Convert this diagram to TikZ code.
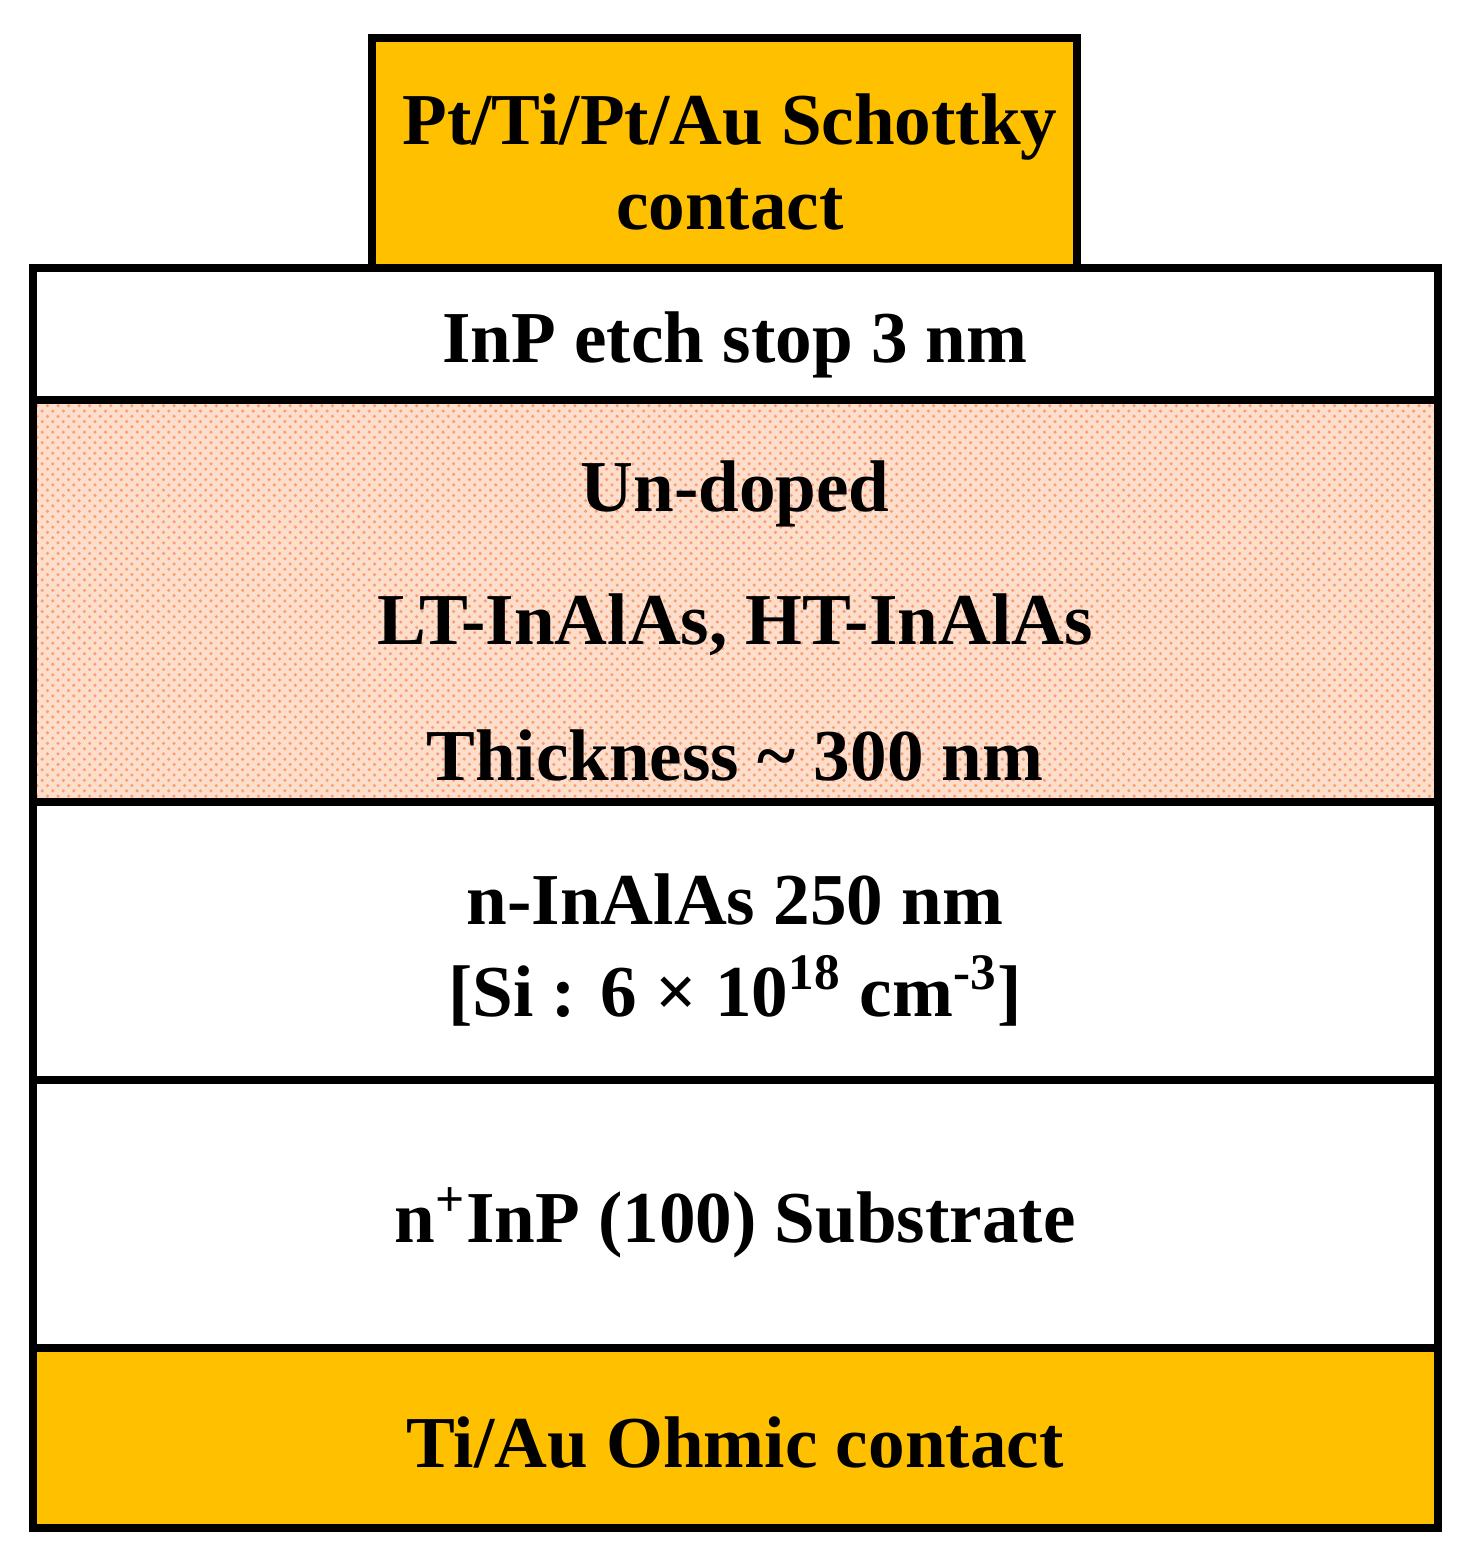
\documentclass[tikz,border=0pt]{standalone}
\usepackage{fontspec}
\setmainfont{Liberation Serif}
\usepackage{tikz}
\usetikzlibrary{patterns}
\definecolor{contactgold}{RGB}{255,192,0}
\definecolor{undopedpeach}{RGB}{253,222,204}
\definecolor{dotorange}{RGB}{250,160,110}

\begin{document}
\begin{tikzpicture}[x=0.01cm,y=-0.01cm,line join=miter,
    layer/.style={draw=black, line width=0.08cm},
    lbl/.style={font=\fontsize{20.8}{25}\selectfont\bfseries, align=center, inner sep=0pt}]
\useasboundingbox (0,0) rectangle (1473,1561);
% metal contacts and epi layers
\draw[layer, fill=contactgold] (372,38) rectangle (1077,268);
\draw[layer, fill=white] (33,268) rectangle (1438,400);
\fill[undopedpeach, postaction={pattern=crosshatch dots, pattern color=dotorange}] (33,400) rectangle (1438,802);
\draw[layer] (33,400) rectangle (1438,802);
\draw[layer, fill=white] (33,802) rectangle (1438,1080);
\draw[layer, fill=white] (33,1080) rectangle (1438,1348);
\draw[layer, fill=contactgold] (33,1348) rectangle (1438,1528);
% labels
\node[lbl] (schottky) at (730,162) {Pt/Ti/Pt/Au Schottky\\[-1pt]contact};
\node[lbl] (etchstop) at (735,345) {InP etch stop 3 nm};
\node[lbl] (undoped) at (735,494) {Un-doped};
\node[lbl] (ltht) at (735,625) {LT-InAlAs, HT-InAlAs};
\node[lbl] (thick) at (735,755) {Thickness \textasciitilde\ 300 nm};
\node[lbl] (ninalas) at (735,950) {n-InAlAs 250 nm\\[1pt][Si : 6 × 10\textsuperscript{18} cm\textsuperscript{-3}]};
\node[lbl] (substrate) at (735,1223) {n\textsuperscript{+}InP (100) Substrate};
\node[lbl] (ohmic) at (735,1443) {Ti/Au Ohmic contact};
\end{tikzpicture}
\end{document}
